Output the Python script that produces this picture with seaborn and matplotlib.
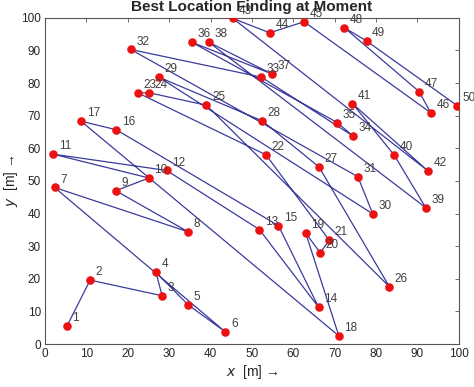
import pandas as pd
import matplotlib
matplotlib.use("Agg")
import matplotlib.pyplot as plt
import seaborn as sns

# Point locations, visited in order 1..50
ids = list(range(1, 51))
x = [5.3, 10.9, 28.3, 26.8, 34.6, 43.6, 2.3, 34.6, 17.1, 25.1,
     2.0, 29.4, 51.8, 66.1, 56.4, 17.2, 8.7, 71.0, 63.0, 66.5,
     68.7, 53.4, 22.4, 25.2, 39.0, 83.2, 66.2, 52.5, 27.5, 79.2,
     75.6, 20.7, 52.3, 74.5, 70.6, 35.5, 54.8, 39.6, 92.0, 84.4,
     74.3, 92.6, 45.4, 54.3, 62.6, 93.2, 90.4, 72.3, 77.7, 99.6]
y = [5.5, 19.6, 14.8, 22.0, 12.0, 3.7, 48.0, 34.4, 47.0, 50.9,
     58.2, 53.2, 35.1, 11.3, 36.3, 65.7, 68.3, 2.5, 34.0, 28.0,
     31.8, 58.0, 77.0, 77.0, 73.2, 17.6, 54.3, 68.4, 81.8, 39.9,
     51.3, 90.3, 81.8, 63.7, 67.9, 92.5, 82.8, 92.5, 41.8, 57.9,
     73.7, 53.0, 99.8, 95.4, 98.8, 70.9, 77.4, 97.0, 92.9, 73.1]

df = pd.DataFrame({"id": ids, "x": x, "y": y})

sns.set_style("white")
plt.rcParams["font.family"] = ["Liberation Sans", "DejaVu Sans"]

fig = plt.figure(figsize=(4.74, 3.87), dpi=100)
ax = fig.add_axes([0.095, 0.111, 0.873, 0.843])

# path through the points, in visiting order
sns.lineplot(data=df, x="x", y="y", sort=False, estimator=None, color="#3b3b9c",
             linewidth=0.9, ax=ax)
# location markers
sns.scatterplot(data=df, x="x", y="y", color="#ee1111", s=38, edgecolor="#ee1111",
                linewidth=0, zorder=3, ax=ax)

for i, xi, yi in zip(ids, x, y):
    ax.annotate(str(i), (xi, yi), xytext=(4, 3.5), textcoords="offset points",
                fontsize=8.5, color="#404040", annotation_clip=False, clip_on=False)

ax.set_xlim(0, 100)
ax.set_ylim(0, 100)
ax.set_xticks(range(0, 101, 10))
ax.set_yticks(range(0, 101, 10))
ax.tick_params(direction="in", top=True, right=True, length=3, labelsize=8.5,
               color="#555555", width=0.6, pad=3)
for s in ax.spines.values():
    s.set_color("#555555")
    s.set_linewidth(0.8)

ax.set_title("Best Location Finding at Moment", fontsize=11, fontweight="bold", pad=5)
ax.set_xlabel("$x$  [m] \u2192", fontsize=10, labelpad=2)
ax.set_ylabel("$y$  [m] \u2192", fontsize=10, labelpad=1)

fig.savefig("out.png", dpi=100)
